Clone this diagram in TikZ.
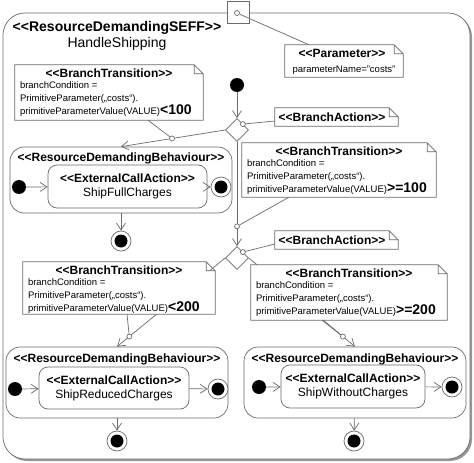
\documentclass[tikz,border=0pt]{standalone}
\usepackage{fontspec}
\setmainfont{Liberation Sans}
\usetikzlibrary{shapes.geometric,arrows.meta,positioning}

\definecolor{umlgray}{gray}{0.42}
\newcommand{\stereo}[1]{<\kern0pt<#1>\kern0pt>}

\tikzset{
	every node/.style={inner sep=0pt},
	umlline/.style={draw=umlgray, line width=0.7pt},
	flow/.style={umlline, -{Straight Barb[length=7pt,width=9pt]}},
	knob/.style={circle, umlline, fill=white, minimum size=5pt},
	startnode/.style={circle, fill=black, minimum size=14pt},
	endnode/.style={circle, umlline, fill=white, minimum size=20pt,
		path picture={\fill[black] (path picture bounding box.center) circle (6.5pt);}},
	decision/.style={diamond, umlline, fill=white, minimum width=23pt, minimum height=23pt},
	behaviour/.style={rectangle, umlline, rounded corners=14pt, minimum width=222pt},
	action/.style={rectangle, umlline, fill=white, rounded corners=9pt, align=center,
		font=\fontsize{12}{14}\selectfont},
	notebox/.style={rectangle},
	big/.style={font=\fontsize{14}{16}\selectfont\bfseries},
	head/.style={font=\fontsize{12}{15}\selectfont\bfseries},
	ttl/.style={font=\fontsize{12}{14}\selectfont\bfseries},
	small/.style={font=\fontsize{9.5}{13}\selectfont, align=left},
}

\begin{document}
\begin{tikzpicture}[x=1pt, y=-1pt]
	\useasboundingbox (0,0) rectangle (474,463);
	\fill[umlgray!70, rounded corners=22pt] (5,15) rectangle (472,461);
	\filldraw[umlline, fill=white, rounded corners=22pt] (3,13) rectangle (470,459);

	\node[big] (seff) at (117,28) {\stereo{ResourceDemandingSEFF}};
	\node[font=\fontsize{14}{16}\selectfont] (seffname) at (117,44) {HandleShipping};
	\node[umlline, fill=white, minimum size=22pt] (param) at (238,12) {};
	\node[knob] (parknob) at (237,13) {};

	\node[startnode] (init) at (237,85) {};
	\node[decision] (dec1) at (237,130) {};
	\node[decision] (dec2) at (237,258) {};

	\node[behaviour, minimum height=66pt] (rdb1) at (121,180) {};
	\node[head] (rdb1ttl) at (121,158) {\stereo{ResourceDemandingBehaviour}};
	\node[startnode] (s1) at (19,187) {};
	\node[action, minimum width=159pt, minimum height=43pt] (eca1) at (127.5,186.5)
		{{\bfseries\stereo{ExternalCallAction}}\\ShipFullCharges};
	\node[endnode] (e1) at (221,187) {};
	\node[endnode] (f1) at (121,241) {};

	\node[behaviour, minimum height=71pt] (rdb2) at (117,382.5) {};
	\node[head] (rdb2ttl) at (117,359) {\stereo{ResourceDemandingBehaviour}};
	\node[startnode] (s2) at (15,389) {};
	\node[action, minimum width=150pt, minimum height=42pt] (eca2) at (114,388)
		{{\bfseries\stereo{ExternalCallAction}}\\ShipReducedCharges};
	\node[endnode] (e2) at (218,389) {};
	\node[endnode] (f2) at (117,441) {};

	\node[behaviour, minimum height=71pt] (rdb3) at (355,382.5) {};
	\node[head] (rdb3ttl) at (355,359) {\stereo{ResourceDemandingBehaviour}};
	\node[startnode] (s3) at (259,387) {};
	\node[action, minimum width=144pt, minimum height=43pt] (eca3) at (353,386.5)
		{{\bfseries\stereo{ExternalCallAction}}\\ShipWithoutCharges};
	\node[endnode] (e3) at (452,387) {};
	\node[endnode] (f3) at (354,441) {};

	\draw[flow] (init) -- (dec1);
	\draw[flow] (dec1.west) -- node[knob, pos=.51] (k1) {} (rdb1.north);
	\draw[flow] (dec1.south) -- node[knob, pos=.81] (k2) {} (dec2.north);
	\draw[flow] (dec2.west) -- node[knob, pos=.886] (k3) {} (rdb2.north);
	\draw[flow] (dec2.east) -- node[knob, pos=.886] (k4) {} (rdb3.north);
	\foreach \i in {1,2,3} {
		\draw[flow] (s\i) -- (eca\i);
		\draw[flow] (eca\i) -- (e\i);
		\draw[flow] (rdb\i) -- (f\i);
	}

	\node[notebox, minimum width=118pt, minimum height=32pt] (parnote) at (344,61) {};
	\node[notebox, minimum width=123pt, minimum height=18pt] (ba1) at (336.5,117) {};
	\node[notebox, minimum width=123pt, minimum height=18pt] (ba2) at (336.5,240) {};
	\node[notebox, minimum width=188pt, minimum height=55pt] (bt1) at (109,92.5) {};
	\node[notebox, minimum width=194pt, minimum height=54pt] (bt2) at (339,170) {};
	\node[notebox, minimum width=192pt, minimum height=52pt] (bt3) at (119,288) {};
	\node[notebox, minimum width=196pt, minimum height=55pt] (bt4) at (349,292.5) {};

	\draw[umlline] (parknob) -- ([xshift=-35pt]parnote.north);
	\draw[umlline] (dec1.north east) -- ([yshift=-4pt]ba1.west);
	\draw[umlline] (dec2.north east) -- ([yshift=-4pt]ba2.west);
	\node[knob] (dk1) at (dec1.north east) {};
	\node[knob] (dk2) at (dec2.north east) {};
	\draw[umlline] ([xshift=39pt]bt1.south) -- (k1);
	\draw[umlline] ([xshift=-50pt]bt2.south) -- (k2);
	\draw[umlline] ([xshift=8pt]bt3.south) -- (k3);
	\draw[umlline] ([xshift=-27pt]bt4.south) -- (k4);

	\foreach \n in {parnote,ba1,ba2,bt1,bt2,bt3,bt4}
		\filldraw[umlline, fill=white] (\n.south west) -- (\n.north west)
			-- ([xshift=-9pt]\n.north east) -- ([yshift=-9pt]\n.north east)
			-- (\n.south east) -- cycle
			([xshift=-9pt]\n.north east) |- ([yshift=-9pt]\n.north east);

	\node[ttl] (parttl) at (342,53) {\stereo{Parameter}};
	\node[font=\fontsize{9.5}{12}\selectfont] (parval) at (344,70) {parameterName="costs"};
	\node[ttl] (ba1ttl) at (332,117) {\stereo{BranchAction}};
	\node[ttl] (ba2ttl) at (332,240) {\stereo{BranchAction}};

	\node[ttl, below=3.5pt of bt1.north] (bt1ttl) {\stereo{BranchTransition}};
	\node[small, below right=17pt and 5pt of bt1.north west] (bt1txt)
		{branchCondition =\\PrimitiveParameter(„costs“).\\primitiveParameterValue(VALUE){\fontsize{14}{13}\selectfont\bfseries<100}};
	\node[ttl, below=3.5pt of bt2.north] (bt2ttl) {\stereo{BranchTransition}};
	\node[small, below right=17pt and 5pt of bt2.north west] (bt2txt)
		{branchCondition =\\PrimitiveParameter(„costs“).\\primitiveParameterValue(VALUE){\fontsize{14}{13}\selectfont\bfseries>=100}};
	\node[ttl, below=3.5pt of bt3.north] (bt3ttl) {\stereo{BranchTransition}};
	\node[small, below right=17pt and 5pt of bt3.north west] (bt3txt)
		{branchCondition =\\PrimitiveParameter(„costs“).\\primitiveParameterValue(VALUE){\fontsize{14}{13}\selectfont\bfseries<200}};
	\node[ttl, below=3.5pt of bt4.north] (bt4ttl) {\stereo{BranchTransition}};
	\node[small, below right=17pt and 5pt of bt4.north west] (bt4txt)
		{branchCondition =\\PrimitiveParameter(„costs“).\\primitiveParameterValue(VALUE){\fontsize{14}{13}\selectfont\bfseries>=200}};
\end{tikzpicture}
\end{document}
